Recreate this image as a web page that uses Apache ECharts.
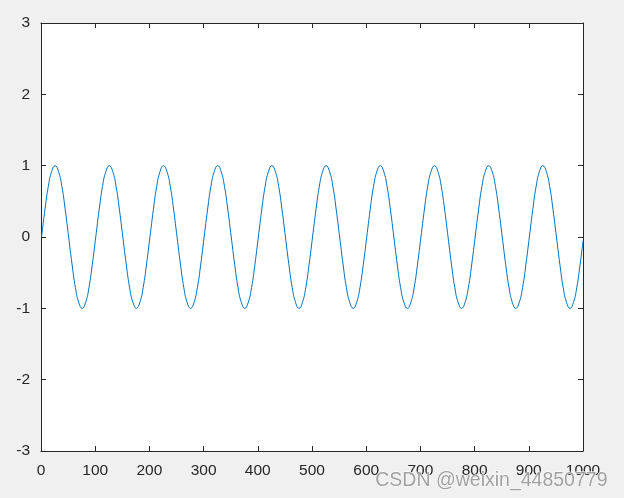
<!DOCTYPE html>
<html><head><meta charset="utf-8">
<script src="https://cdn.jsdelivr.net/npm/echarts@6/dist/echarts.min.js"></script>
<style>html,body{margin:0;padding:0;background:#f0f0f0;}#c{width:624px;height:498px;}</style>
</head><body><div id="c"></div>
<script>
var xValues = [
1,7.25,13.5,19.75,26,32.25,38.5,44.75,51,57.25,63.5,69.75,76,82.25,88.5,94.75,
101,107.25,113.5,119.75,126,132.25,138.5,144.75,151,157.25,163.5,169.75,176,182.25,188.5,194.75,
201,207.25,213.5,219.75,226,232.25,238.5,244.75,251,257.25,263.5,269.75,276,282.25,288.5,294.75,
301,307.25,313.5,319.75,326,332.25,338.5,344.75,351,357.25,363.5,369.75,376,382.25,388.5,394.75,
401,407.25,413.5,419.75,426,432.25,438.5,444.75,451,457.25,463.5,469.75,476,482.25,488.5,494.75,
501,507.25,513.5,519.75,526,532.25,538.5,544.75,551,557.25,563.5,569.75,576,582.25,588.5,594.75,
601,607.25,613.5,619.75,626,632.25,638.5,644.75,651,657.25,663.5,669.75,676,682.25,688.5,694.75,
701,707.25,713.5,719.75,726,732.25,738.5,744.75,751,757.25,763.5,769.75,776,782.25,788.5,794.75,
801,807.25,813.5,819.75,826,832.25,838.5,844.75,851,857.25,863.5,869.75,876,882.25,888.5,894.75,
901,907.25,913.5,919.75,926,932.25,938.5,944.75,951,957.25,963.5,969.75,976,982.25,988.5,994.75,
1000];
var yValues = [
0,0.38,0.71,0.92,1,0.92,0.71,0.38,0,-0.38,-0.71,-0.92,-1,-0.92,-0.71,-0.38,
0,0.38,0.71,0.92,1,0.92,0.71,0.38,0,-0.38,-0.71,-0.92,-1,-0.92,-0.71,-0.38,
0,0.38,0.71,0.92,1,0.92,0.71,0.38,0,-0.38,-0.71,-0.92,-1,-0.92,-0.71,-0.38,
0,0.38,0.71,0.92,1,0.92,0.71,0.38,0,-0.38,-0.71,-0.92,-1,-0.92,-0.71,-0.38,
0,0.38,0.71,0.92,1,0.92,0.71,0.38,0,-0.38,-0.71,-0.92,-1,-0.92,-0.71,-0.38,
0,0.38,0.71,0.92,1,0.92,0.71,0.38,0,-0.38,-0.71,-0.92,-1,-0.92,-0.71,-0.38,
0,0.38,0.71,0.92,1,0.92,0.71,0.38,0,-0.38,-0.71,-0.92,-1,-0.92,-0.71,-0.38,
0,0.38,0.71,0.92,1,0.92,0.71,0.38,0,-0.38,-0.71,-0.92,-1,-0.92,-0.71,-0.38,
0,0.38,0.71,0.92,1,0.92,0.71,0.38,0,-0.38,-0.71,-0.92,-1,-0.92,-0.71,-0.38,
0,0.38,0.71,0.92,1,0.92,0.71,0.38,0,-0.38,-0.71,-0.92,-1,-0.92,-0.71,-0.38,
-0.06];
var xTickLabels = ['0','100','200','300','400','500','600','700','800','900','1000'];
var yTickLabels = ['-3','-2','-1','0','1','2','3'];
var watermark = 'CSDN @weixin_44850779';

var seriesData = xValues.map(function(x, i){ return [x, yValues[i]]; });
var axColor = '#262626';
var font = 'Liberation Sans, Arial, Helvetica, sans-serif';
function baseX(pos, showLabel){
  return {type:'value', position:pos, min:0, max:1000, interval:100,
    axisLine:{show:true, onZero:false, lineStyle:{color:axColor, width:1}},
    axisTick:{show:true, inside:true, length:5, lineStyle:{color:axColor}},
    axisLabel:{show:showLabel, color:axColor, fontSize:15.5, fontFamily:font, margin:12,
      formatter:function(v){ return xTickLabels[Math.round(v/100)]; }},
    splitLine:{show:false}};
}
function baseY(pos, showLabel){
  return {type:'value', position:pos, min:-3, max:3, interval:1,
    axisLine:{show:true, onZero:false, lineStyle:{color:axColor, width:1}},
    axisTick:{show:true, inside:true, length:5, lineStyle:{color:axColor}},
    axisLabel:{show:showLabel, color:axColor, fontSize:15.5, fontFamily:font, margin:11,
      formatter:function(v){ return yTickLabels[Math.round(v+3)]; }},
    splitLine:{show:false}};
}
var chart = echarts.init(document.getElementById('c'), null, {renderer:'canvas'});
chart.setOption({
  backgroundColor:'#f0f0f0',
  animation:false,
  grid:{left:41, right:41, top:23, bottom:47, show:true, backgroundColor:'#ffffff', borderWidth:0},
  xAxis:[baseX('bottom', true), baseX('top', false)],
  yAxis:[baseY('left', true), baseY('right', false)],
  series:[{type:'line', data:seriesData, smooth:0.5, showSymbol:false,
    lineStyle:{color:'#0072BD', width:1}, clip:true}],
  graphic:[{type:'text', right:16, top:470, z:100,
    style:{text:watermark, fontSize:19.5, fontFamily:font, fill:'#a0a0a0',
      stroke:'#ffffff', lineWidth:1}}]
});
</script></body></html>
